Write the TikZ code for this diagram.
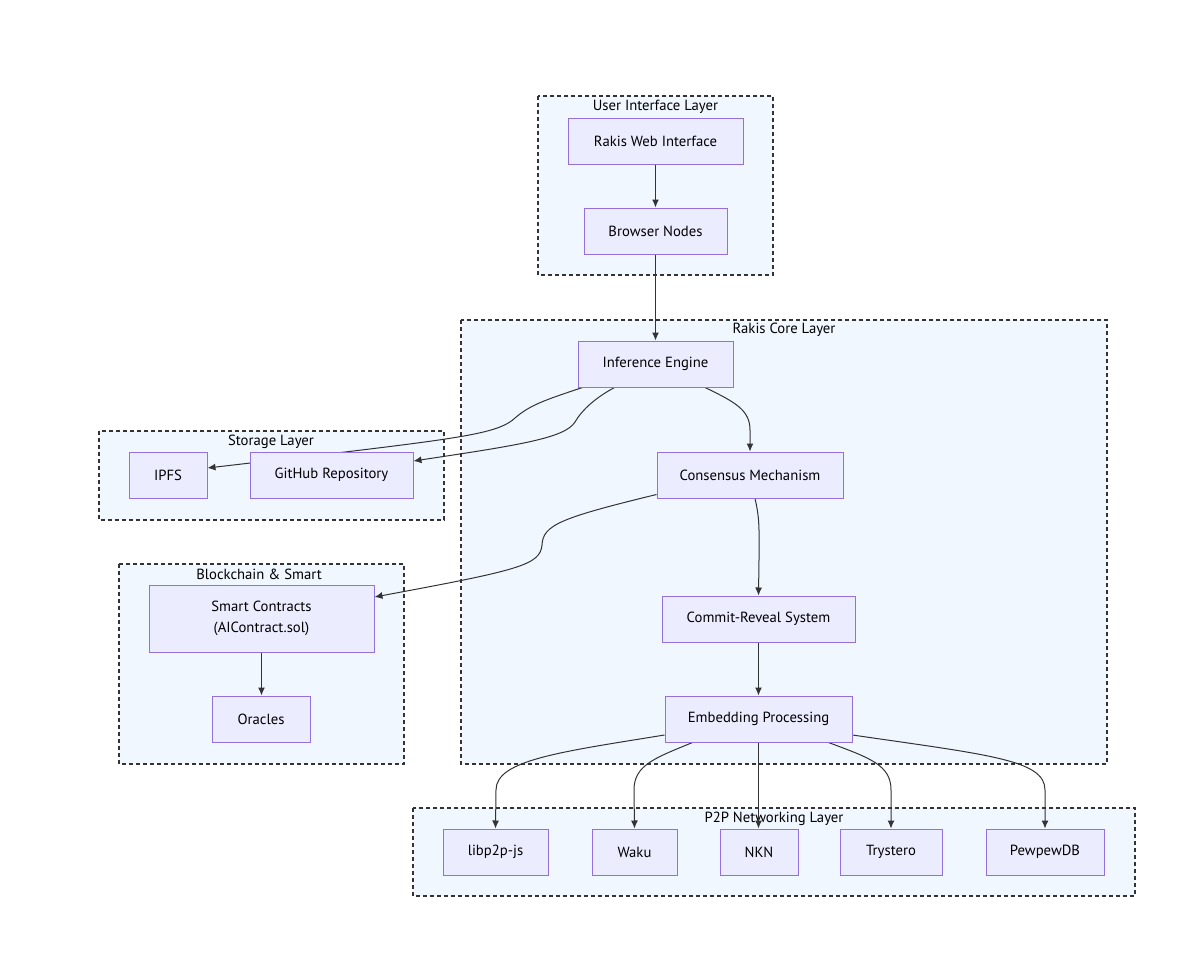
\documentclass[tikz,border=0pt]{standalone}
\usepackage{fontspec}
\setmainfont{PT Sans}
\usetikzlibrary{arrows.meta}
\definecolor{nodefill}{HTML}{ECECFF}
\definecolor{nodeline}{HTML}{9370DB}
\definecolor{clfill}{HTML}{F0F7FF}
\definecolor{edgec}{HTML}{333333}
\pgfdeclarelayer{bg}
\pgfdeclarelayer{edges}
\pgfsetlayers{bg,edges,main}
\tikzset{
  box/.style={draw=nodeline, fill=nodefill, line width=1pt, inner sep=0pt, align=center,
    font=\fontsize{14.7}{21}\selectfont, text=black},
  cluster/.style={draw=edgec, fill=clfill, line width=1.3pt, dash pattern=on 4pt off 3pt},
  cllabel/.style={font=\fontsize{14.7}{17}\selectfont, text=black, inner sep=0pt},
  edge/.style={draw=edgec, line width=1pt, -{Latex[length=8pt,width=7pt]}},
}
\begin{document}
\begin{tikzpicture}[x=1pt,y=-1pt]
\begin{pgfonlayer}{bg}
\useasboundingbox[fill=white] (0,0) rectangle (1200,958);
\draw[cluster] (538,96) rectangle (773,275);
\node[cllabel] (lui) at (655.5,106.5) {User Interface Layer};
\draw[cluster] (461,320) rectangle (1107,764);
\node[cllabel] (lcore) at (784,329.5) {Rakis Core Layer};
\draw[cluster] (99,431) rectangle (444,520);
\node[cllabel] (lsto) at (271,441.5) {Storage Layer};
\draw[cluster] (119,564) rectangle (404,764);
\node[cllabel] (lbc) at (259,574.5) {Blockchain \& Smart};
\draw[cluster] (413,808) rectangle (1135,896);
\node[cllabel] (lp2p) at (774,818.5) {P2P Networking Layer};
\end{pgfonlayer}
% nodes
\path
  (655.5,141) node[box, minimum width=175, minimum height=46] (rwi) {Rakis Web Interface}
  (655.5,231) node[box, minimum width=143, minimum height=46] (bn) {Browser Nodes}
  (655.5,364) node[box, minimum width=155, minimum height=46] (ie) {Inference Engine}
  (750,475) node[box, minimum width=186, minimum height=46] (cm) {Consensus Mechanism}
  (758.5,619) node[box, minimum width=193, minimum height=46] (cr) {Commit-Reveal System}
  (758.5,719) node[box, minimum width=187, minimum height=46] (ep) {Embedding Processing}
  (168,475) node[box, minimum width=78, minimum height=46] (ipfs) {IPFS}
  (331.5,475) node[box, minimum width=163, minimum height=46] (gh) {GitHub Repository}
  (261.5,618.5) node[box, minimum width=225, minimum height=67] (sc) {Smart Contracts\\(AIContract.sol)}
  (261,719) node[box, minimum width=98, minimum height=46] (orc) {Oracles}
  (495.5,852) node[box, minimum width=105, minimum height=46] (lp) {libp2p-js}
  (634.5,852) node[box, minimum width=85, minimum height=46] (wk) {Waku}
  (759,852) node[box, minimum width=78, minimum height=46] (nkn) {NKN}
  (891,852) node[box, minimum width=102, minimum height=46] (ty) {Trystero}
  (1045,852) node[box, minimum width=118, minimum height=46] (pp) {PewpewDB};
\begin{pgfonlayer}{edges}
\draw[edge] (rwi.south) -- (bn.north);
\draw[edge] (bn.south) -- (ie.north);
\draw[edge] ([xshift=5pt]ie.south west) .. controls (545,400) and (530,405) .. (515,418)
   .. controls (500,432) and (470,437) .. (345,452) -- ([yshift=7pt]ipfs.east);
\draw[edge] ([xshift=37pt]ie.south west) .. controls (595,398) and (582,410) .. (575,422)
   .. controls (565,438) and (520,445) .. ([yshift=14pt]gh.east);
\draw[edge] ([xshift=49.5pt]ie.south) .. controls (735,402) and (750,410) .. (750,430) -- (cm.north);
\draw[edge] ([yshift=4pt]cm.south west) .. controls (560,518) and (543,525) .. (542,545)
   .. controls (540,565) and (520,570) .. ([yshift=21.5pt]sc.east);
\draw[edge] ([xshift=5pt]cm.south) .. controls (760,520) and (759,530) .. (759,560) -- (cr.north);
\draw[edge] (cr.south) -- (ep.north);
\draw[edge] (sc.south) -- (sc.south |- orc.north);
\draw[edge] ([yshift=-16pt]ep.west) .. controls (560,752) and (496,760) .. (496,790) -- (lp.north);
\draw[edge] ([xshift=28pt]ep.south west) .. controls (655,758) and (634,765) .. (634,790) -- (wk.north);
\draw[edge] (ep.south) -- (ep.south |- nkn.north);
\draw[edge] ([xshift=-24pt]ep.south east) .. controls (870,758) and (891,765) .. (891,790) -- (ty.north);
\draw[edge] ([yshift=-16pt]ep.east) .. controls (990,755) and (1045,760) .. (1045,790) -- (pp.north);
\end{pgfonlayer}
\end{tikzpicture}
\end{document}
